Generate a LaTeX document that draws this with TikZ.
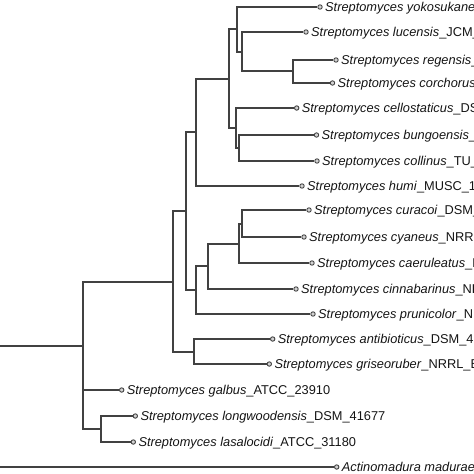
\documentclass[tikz,border=0pt]{standalone}
\usepackage{fontspec}
\setmainfont{Liberation Sans}
\definecolor{lc}{RGB}{65,65,65}
\definecolor{tc}{RGB}{20,20,20}
\newcommand\tipat[4]{%
  \node[tip] (#1) at (#2,#3) {};
  \node[lab] (#1l) at ([xshift=5pt,yshift=-4.3pt]#1.center) {#4};}
\begin{document}
\begin{tikzpicture}[x=1pt,y=-1pt,
  br/.style={draw=lc, line width=2pt},
  tip/.style={circle, draw=lc, fill=gray!35, line width=0.9pt, inner sep=0pt, minimum size=4.4pt},
  lab/.style={anchor=base west, inner sep=0pt, font=\fontsize{12.8}{15}\selectfont, text=tc}]
\useasboundingbox (0,0) rectangle (474,474);
\clip (0,0) rectangle (474,474);
% internal nodes
\coordinate (r0) at (0,346);
\coordinate (R) at (83,346);
\coordinate (M) at (173,282);
\coordinate (A) at (186,211);
\coordinate (F) at (196,132);
\coordinate (G) at (229,79);
\coordinate (H) at (237,29);
\coordinate (I) at (242,52);
\coordinate (L) at (293,71);
\coordinate (J) at (236,128);
\coordinate (K) at (239,148);
\coordinate (B) at (196,290);
\coordinate (C) at (208,266);
\coordinate (D) at (239,244);
\coordinate (E) at (242,224);
\coordinate (N) at (194,352);
\coordinate (O) at (101,429);
\coordinate (a0) at (0,467);
% tips
\tipat{t1}{320}{7}{\textit{Streptomyces yokosukanensis}}
\tipat{t2}{306}{32}{\textit{Streptomyces lucensis}\_JCM\_}
\tipat{t3}{336}{60}{\textit{Streptomyces regensis}\_}
\tipat{t4}{332.5}{83}{\textit{Streptomyces corchorusii}}
\tipat{t5}{296.7}{108}{\textit{Streptomyces cellostaticus}\_DSM}
\tipat{t6}{316.5}{135}{\textit{Streptomyces bungoensis}\_}
\tipat{t7}{317}{161}{\textit{Streptomyces collinus}\_TU\_}
\tipat{t8}{302}{186}{\textit{Streptomyces humi}\_MUSC\_1}
\tipat{t9}{309}{210}{\textit{Streptomyces curacoi}\_DSM\_}
\tipat{t10}{304}{237}{\textit{Streptomyces cyaneus}\_NRRL}
\tipat{t11}{312}{263}{\textit{Streptomyces caeruleatus}\_N}
\tipat{t12}{296}{289}{\textit{Streptomyces cinnabarinus}\_NR}
\tipat{t13}{313}{314}{\textit{Streptomyces prunicolor}\_N}
\tipat{t14}{272.7}{339}{\textit{Streptomyces antibioticus}\_DSM\_4}
\tipat{t15}{269.3}{364}{\textit{Streptomyces griseoruber}\_NRRL\_B}
\tipat{t16}{121.7}{390}{\textit{Streptomyces galbus}\_ATCC\_23910}
\tipat{t17}{135.3}{416}{\textit{Streptomyces longwoodensis}\_DSM\_41677}
\tipat{t18}{133.3}{442}{\textit{Streptomyces lasalocidi}\_ATCC\_31180}
\tipat{t19}{336.7}{467}{\textit{Actinomadura madurae}}
% branches
\draw[br] (r0) -- (R);
\draw[br] (a0) -- (t19);
\draw[br] (R) |- (M);
\draw[br] (R) |- (t16);
\draw[br] (R) |- (O);
\draw[br] (O) |- (t17);
\draw[br] (O) |- (t18);
\draw[br] (M) |- (A);
\draw[br] (M) |- (N);
\draw[br] (N) |- (t14);
\draw[br] (N) |- (t15);
\draw[br] (A) |- (F);
\draw[br] (A) |- (B);
\draw[br] (F) |- (G);
\draw[br] (F) |- (t8);
\draw[br] (G) |- (H);
\draw[br] (G) |- (J);
\draw[br] (H) |- (t1);
\draw[br] (H) |- (I);
\draw[br] (I) |- (t2);
\draw[br] (I) |- (L);
\draw[br] (L) |- (t3);
\draw[br] (L) |- (t4);
\draw[br] (J) |- (t5);
\draw[br] (J) |- (K);
\draw[br] (K) |- (t6);
\draw[br] (K) |- (t7);
\draw[br] (B) |- (C);
\draw[br] (B) |- (t13);
\draw[br] (C) |- (D);
\draw[br] (C) |- (t12);
\draw[br] (D) |- (E);
\draw[br] (D) |- (t11);
\draw[br] (E) |- (t9);
\draw[br] (E) |- (t10);
\end{tikzpicture}
\end{document}
